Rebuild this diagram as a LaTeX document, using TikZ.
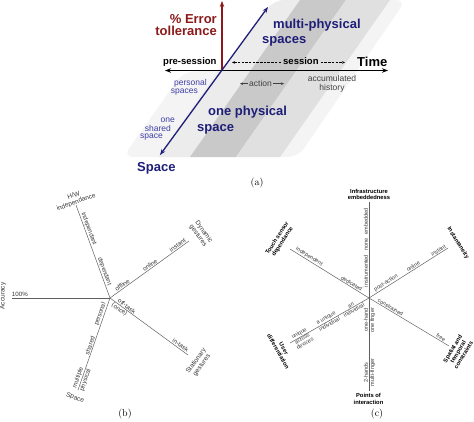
\documentclass[tikz,border=0pt]{standalone}
\usepackage{fontspec}
\setsansfont{Liberation Sans}
\usetikzlibrary{positioning, calc, arrows.meta}

\definecolor{navy}{RGB}{30,30,120}
\definecolor{softblue}{RGB}{62,62,165}
\definecolor{errred}{RGB}{140,26,26}
\definecolor{raygray}{RGB}{95,95,95}
\definecolor{labelgray}{RGB}{55,55,55}

\tikzset{
    bigtext/.style={font=\sffamily\bfseries\fontsize{13}{15}\selectfont, inner sep=0pt},
    midtext/.style={font=\sffamily\bfseries\fontsize{9.5}{11}\selectfont, inner sep=0pt},
    smalltext/.style={font=\sffamily\fontsize{8.5}{9.5}\selectfont, inner sep=0pt},
    ray/.style={draw=raygray, line width=0.5pt},
    raylabel/.style={font=\sffamily\fontsize{6.2}{6.6}\selectfont, text=labelgray, sloped, inner sep=0.8pt},
    raylabelc/.style={raylabel, font=\sffamily\fontsize{5.5}{5.8}\selectfont, align=center},
    endlabel/.style={font=\sffamily\fontsize{6.5}{7}\selectfont, text=labelgray, align=center, inner sep=0pt},
    endlabelc/.style={font=\sffamily\bfseries\fontsize{5.8}{6.3}\selectfont, align=center, inner sep=0pt},
    subcap/.style={font=\rmfamily\fontsize{10}{12}\selectfont, inner sep=0pt},
    smalltip/.style={-{Stealth[length=3pt, width=2.6pt]}, line width=0.5pt},
}

\begin{document}
\begin{tikzpicture}[x=1pt, y=-1pt, >={Stealth[length=6pt, width=4.5pt]}]
    \useasboundingbox (0, 0) rectangle (474, 421);

    % (a)
    \path[fill=gray!9, rounded corners=10pt] (123, 157) -- (298, 157) -- (406, 0) -- (274, 0) -- (223, 70) -- (183, 72) -- cycle;
    \begin{scope}
        \clip[rounded corners=10pt] (123, 157) -- (298, 157) -- (406, 0) -- (274, 0) -- (223, 70) -- (183, 72) -- cycle;
        \fill[gray!15] (158, 157) -- (190, 157) -- (300, 0) -- (268, 0) -- cycle;
        \fill[gray!42] (190, 157) -- (236, 157) -- (346, 0) -- (300, 0) -- cycle;
        \fill[gray!24] (236, 157) -- (280, 157) -- (390, 0) -- (346, 0) -- cycle;
    \end{scope}

    \coordinate (Origin) at (222, 70.5);
    \coordinate (TimeL) at (165, 70.5);
    \coordinate (TimeR) at (388, 70.5);
    \coordinate (ErrTop) at (222, 1);
    \coordinate (SpaceLow) at (160, 155);
    \coordinate (SpaceHigh) at (268, 7);
    \draw[errred, line width=1.3pt, ->] (Origin) -- (ErrTop);
    \draw[line width=1.3pt, <->] (TimeL) -- (TimeR);
    \draw[navy, line width=1.3pt, <->] (SpaceLow) -- (SpaceHigh);

    \path (217, 14) node[bigtext, text=errred, anchor=north east, align=right, font=\sffamily\bfseries\fontsize{13}{12.5}\selectfont](Error){\% Error\\tollerance};
    \path (273, 28.3) node[bigtext, text=navy, anchor=base west](Multi){multi-physical};
    \path (262, 43.3) node[bigtext, text=navy, anchor=base west](MultiB){spaces};
    \path (163, 64.3) node[midtext, anchor=base west](Pre){pre-session};
    \path (283, 64.3) node[midtext, anchor=base west](Session){session};
    \path (357, 66.7) node[bigtext, anchor=base west](Time){Time};
    \coordinate (SessW) at ($(Session.west) + (-2, 1.5)$);
    \coordinate (SessE) at ($(Session.east) + (2, 1.5)$);
    \coordinate (SessionL) at (232, 0);
    \coordinate (SessionR) at (345, 0);
    \draw[smalltip, dash pattern=on 2.5pt off 1.2pt] (SessW) -- (SessionL |- SessW);
    \draw[smalltip, dash pattern=on 2.5pt off 1.2pt] (SessE) -- (SessionR |- SessE);

    \path (207, 85.3) node[smalltext, text=softblue, anchor=base east](Personal){personal};
    \path (198, 93.3) node[smalltext, text=softblue, anchor=base east](PersonalB){spaces};
    \path (260.5, 86.7) node[smalltext, text=black!75, anchor=base](Action){action};
    \coordinate (ActionL) at (240, 0);
    \coordinate (ActionR) at (284, 0);
    \draw[smalltip, black!75] ([xshift=-1pt]Action.west) -- (ActionL |- Action.west);
    \draw[smalltip, black!75] ([xshift=1pt]Action.east) -- (ActionR |- Action.east);
    \path (332, 84) node[smalltext, text=black!75, align=center](History){accumulated\\history};

    \path (208, 115) node[bigtext, text=navy, anchor=base west](OnePhys){one physical};
    \path (197, 131.3) node[bigtext, text=navy, anchor=base west](OnePhysB){space};
    \path (175, 122.7) node[smalltext, text=softblue, anchor=base east](Shared){one};
    \path (171, 131) node[smalltext, text=softblue, anchor=base east](SharedB){shared};
    \path (163, 138.7) node[smalltext, text=softblue, anchor=base east](SharedC){space};
    \path (137, 171) node[bigtext, text=navy, anchor=base west](Space){Space};
    \path (257, 182.5) node[subcap](CapA){(a)};

    % (b)
    \coordinate (BCenter) at (110, 298);
    \coordinate (BHw) at (76, 205);
    \coordinate (BDyn) at (189, 241);
    \coordinate (BStat) at (188, 355);
    \coordinate (BSpace) at (78, 390);
    \coordinate (BAcc) at (12, 298);
    \draw[ray] (BCenter) -- (BHw)
        node[raylabel, pos=0.27, above]{dependant}
        node[raylabel, pos=0.73, above]{independant};
    \draw[ray] (BCenter) -- (BDyn)
        node[raylabel, pos=0.18, above]{offline}
        node[raylabel, pos=0.53, above]{online}
        node[raylabel, pos=0.88, above]{instant};
    \draw[ray] (BCenter) -- (BStat)
        node[raylabel, pos=0.19, above]{off-task}
        node[raylabel, pos=0.15, below]{(once)}
        node[raylabel, pos=0.88, above]{in-task};
    \draw[ray] (BCenter) -- (BSpace)
        node[raylabel, pos=0.19, above]{personal}
        node[raylabel, pos=0.53, above]{shared}
        node[raylabel, pos=0.88, above]{multiple}
        node[raylabel, pos=0.88, below]{physical};
    \draw[ray] (BCenter) -- (BAcc)
        node[raylabel, pos=0.92, above]{100\%};
    \path (75, 199) node[endlabel, rotate=20](HwIndep){H/W\\independance};
    \path (201, 234) node[endlabel, rotate=-54](Dynamic){Dynamic\\gestures};
    \path (199, 363) node[endlabel, rotate=54](Stationary){Stationary\\gestures};
    \path (75, 398) node[endlabel, rotate=-19](SpaceB){Space};
    \path (3, 296) node[endlabel, rotate=90](Accuracy){Accuracy};
    \path (125, 414) node[subcap](CapB){(b)};

    % (c)
    \coordinate (CCenter) at (369, 298);
    \coordinate (CTop) at (369, 202);
    \coordinate (CBottom) at (369, 391);
    \coordinate (CTouch) at (290, 249);
    \coordinate (CInst) at (448, 248);
    \coordinate (CUser) at (290, 343);
    \coordinate (CSpat) at (449, 346);
    \draw[ray] (CCenter) -- (CTop)
        node[raylabelc, pos=0.28, above]{instrumented}
        node[raylabelc, pos=0.56, above]{none}
        node[raylabelc, pos=0.8, above]{embedded};
    \draw[ray] (CBottom) -- (CCenter)
        node[raylabelc, pos=0.2, above]{2-hands}
        node[raylabelc, pos=0.2, below]{multi-finger}
        node[raylabelc, pos=0.76, above]{one-hand}
        node[raylabelc, pos=0.76, below]{one finger};
    \draw[ray] (CCenter) -- (CTouch)
        node[raylabelc, pos=0.24, above]{dedicated}
        node[raylabelc, pos=0.78, above]{independent};
    \draw[ray] (CCenter) -- (CInst)
        node[raylabelc, pos=0.24, above]{post-action}
        node[raylabelc, pos=0.58, above]{online}
        node[raylabelc, pos=0.9, above]{instant};
    \draw[ray] (CCenter) -- (CUser)
        node[raylabelc, pos=0.21, above]{an}
        node[raylabelc, pos=0.21, below]{individual}
        node[raylabelc, pos=0.52, above]{a unique}
        node[raylabelc, pos=0.52, below]{individual}
        node[raylabelc, pos=0.86, above]{unique}
        node[raylabelc, pos=0.86, below]{across\\devices};
    \draw[ray] (CCenter) -- (CSpat)
        node[raylabelc, pos=0.25, above]{constrained}
        node[raylabelc, pos=0.88, above]{free};
    \path (369, 194.5) node[endlabelc](Infra){Infrastructure\\embeddedness};
    \path (368.5, 399) node[endlabelc](Points){Points of\\interaction};
    \path (280, 240) node[endlabelc, rotate=57](Touch){Touch sensor\\dependance};
    \path (458, 243) node[endlabelc, rotate=-58](Instant){Instantaneity};
    \path (281, 350) node[endlabelc, rotate=-60](UserDiff){User\\differentiation};
    \path (458, 352) node[endlabelc, rotate=59](SpatTemp){Spatial and\\temporal\\constraints};
    \path (377, 414) node[subcap](CapC){(c)};
\end{tikzpicture}
\end{document}
